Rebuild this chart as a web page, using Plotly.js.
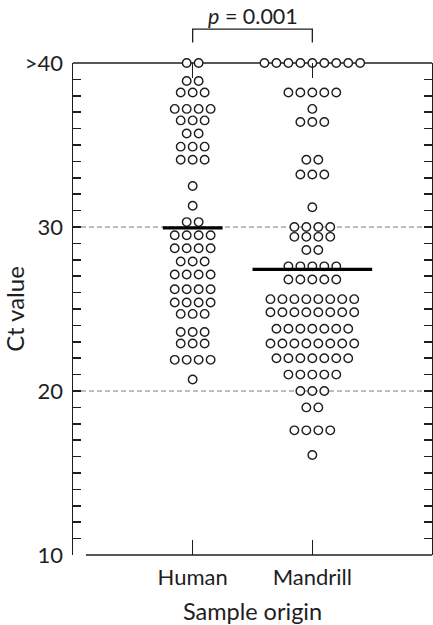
<!DOCTYPE html>
<html>
<head>
<meta charset="utf-8">
<script src="https://cdn.plot.ly/plotly-3.0.1.min.js"></script>
<style>html,body{margin:0;padding:0;background:#fff;}#chart{width:433px;height:625px;}</style>
</head>
<body>
<div id="chart"></div>
<script>
// Sample groups
const categories = ['Human', 'Mandrill'];
// Ct values per sample (">40" plotted at 40)
const humanCt = [
  40, 40,
  38.9, 38.9,
  38.2, 38.2, 38.2,
  37.2, 37.2, 37.2, 37.2,
  36.5, 36.5, 36.5,
  35.7, 35.7,
  34.9, 34.9, 34.9,
  34.1, 34.1, 34.1,
  32.5,
  31.3,
  30.3, 30.3,
  29.5, 29.5, 29.5, 29.5,
  28.7, 28.7, 28.7, 28.7,
  27.9, 27.9, 27.9,
  27.1, 27.1, 27.1, 27.1,
  26.2, 26.2, 26.2, 26.2,
  25.4, 25.4, 25.4, 25.4,
  24.7, 24.7, 24.7,
  23.6, 23.6, 23.6,
  22.9, 22.9, 22.9,
  21.9, 21.9, 21.9, 21.9,
  20.7
];
const mandrillCt = [
  40, 40, 40, 40, 40, 40, 40, 40, 40,
  38.2, 38.2, 38.2, 38.2, 38.2,
  37.2,
  36.4, 36.4, 36.4,
  34.1, 34.1,
  33.2, 33.2, 33.2,
  31.2,
  30.0, 30.0, 30.0, 30.0,
  29.4, 29.4, 29.4, 29.4,
  28.6, 28.6,
  27.6, 27.6, 27.6, 27.6, 27.6,
  26.8, 26.8, 26.8, 26.8, 26.8,
  25.6, 25.6, 25.6, 25.6, 25.6, 25.6, 25.6, 25.6,
  24.8, 24.8, 24.8, 24.8, 24.8, 24.8, 24.8, 24.8,
  23.8, 23.8, 23.8, 23.8, 23.8, 23.8, 23.8,
  22.9, 22.9, 22.9, 22.9, 22.9, 22.9, 22.9, 22.9,
  22.0, 22.0, 22.0, 22.0, 22.0, 22.0, 22.0,
  21.0, 21.0, 21.0, 21.0, 21.0,
  20.0, 20.0, 20.0,
  19.0, 19.0,
  17.6, 17.6, 17.6, 17.6,
  16.1
];
const groupValues = [humanCt, mandrillCt];
const yTickVals = [10, 20, 30, 40];
const yTickText = ['10', '20', '30', '>40'];
const gridValues = [20, 30];
const pValueText = '<i>p</i> = 0.001';

const FONT = 'Lato, "Open Sans", "DejaVu Sans", sans-serif';
const INK = '#1e1e1e';
const SPACING = 0.1; // horizontal dot spacing in x units

const traces = [];
groupValues.forEach((vals, gi) => {
  // group equal values into rows, centre each row on the category
  const rows = new Map();
  vals.forEach(v => rows.set(v, (rows.get(v) || 0) + 1));
  const xs = [], ys = [];
  let maxRow = 0;
  rows.forEach((n, v) => {
    maxRow = Math.max(maxRow, n);
    for (let i = 0; i < n; i++) {
      xs.push(gi + (i - (n - 1) / 2) * SPACING);
      ys.push(v);
    }
  });
  traces.push({
    type: 'scatter', mode: 'markers', x: xs, y: ys, cliponaxis: false,
    marker: {symbol: 'circle', size: 8.5, color: '#ffffff', line: {color: INK, width: 1.4}},
    hoverinfo: 'skip', showlegend: false
  });
  const mean = vals.reduce((a, b) => a + b, 0) / vals.length;
  const half = (maxRow + 1) / 2 * SPACING;
  traces.push({
    type: 'scatter', mode: 'lines', x: [gi - half, gi + half], y: [mean, mean],
    line: {color: '#000', width: 3.2}, cliponaxis: false, hoverinfo: 'skip', showlegend: false
  });
});

const shapes = [];
gridValues.forEach(g => shapes.push({
  type: 'line', xref: 'paper', yref: 'y', x0: 0, x1: 1, y0: g, y1: g,
  line: {color: '#a8a8a8', width: 1.3, dash: '5px,3px'}, layer: 'below'
}));
// frame: top and bottom lines
shapes.push({type: 'line', xref: 'paper', yref: 'paper', x0: 0, x1: 1, y0: 1, y1: 1,
  line: {color: INK, width: 1.5}, layer: 'below'});
shapes.push({type: 'line', xref: 'paper', yref: 'paper', x0: 0.036, x1: 1, y0: 0, y1: 0,
  line: {color: INK, width: 1.5}});
// significance bracket between the two categories
shapes.push({type: 'path', xref: 'x', yref: 'paper',
  path: `M 0 1.0417 L 0 1.069 L 1 1.069 L 1 1.0417`,
  line: {color: INK, width: 1.3}});

const layout = {
  width: 433, height: 625,
  margin: {l: 73, r: 1, t: 63, b: 70, pad: 0},
  paper_bgcolor: '#fff', plot_bgcolor: '#fff',
  font: {family: FONT, color: INK, size: 20},
  showlegend: false,
  xaxis: {
    range: [-1, 2], tickvals: [0, 1], ticktext: categories,
    ticks: 'inside', ticklen: 15, tickwidth: 1.5, tickcolor: INK,
    mirror: 'ticks', showline: false, showgrid: false, zeroline: false,
    tickfont: {family: FONT, size: 22, color: INK}, ticklabelstandoff: 7,
    title: {text: 'Sample origin', font: {family: FONT, size: 23.5, color: INK}, standoff: 17},
    fixedrange: true
  },
  yaxis: {
    range: [10, 40], tickvals: yTickVals, ticktext: yTickText,
    ticks: 'inside', ticklen: 8, tickwidth: 1.5, tickcolor: INK,
    minor: {dtick: 1, tick0: 10, ticks: 'inside', ticklen: 8, tickwidth: 1.5, tickcolor: INK, showgrid: false},
    showline: true, linewidth: 1.5, linecolor: INK, mirror: 'ticks',
    showgrid: false, zeroline: false,
    tickfont: {family: FONT, size: 22, color: INK}, ticklabelstandoff: 4,
    title: {text: 'Ct value', font: {family: FONT, size: 24, color: INK}, standoff: 8},
    fixedrange: true
  },
  shapes: shapes,
  annotations: [{
    xref: 'x', yref: 'paper', x: 0.5, y: 1.0957, text: pValueText, showarrow: false,
    font: {family: FONT, size: 21.5, color: INK}, xanchor: 'center', yanchor: 'middle'
  }]
};

Plotly.newPlot('chart', traces, layout, {displayModeBar: false, staticPlot: true});
</script>
</body>
</html>
